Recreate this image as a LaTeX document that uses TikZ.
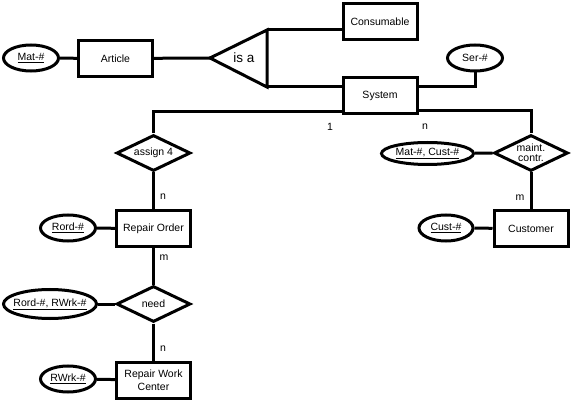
\documentclass[tikz,border=0pt]{standalone}
\usepackage{fontspec}
\setmainfont{Liberation Sans}
\usetikzlibrary{shapes.geometric}

\newcommand{\keyattr}[1]{\makebox[0pt]{\underline{#1}}}
\newcommand{\flatbox}[1]{\makebox[0pt]{#1}}

\begin{document}
\begin{tikzpicture}[x=1pt,y=1pt,yscale=-1,xscale=1,
  every node/.style={font=\fontsize{10.5}{12.5}\selectfont},
  entity/.style={draw,line width=3pt,rectangle,minimum width=74pt,minimum height=36pt,inner sep=0pt,align=center},
  relation/.style={draw,line width=3pt,diamond,minimum width=74pt,minimum height=36pt,inner sep=0pt,align=center},
  attrib/.style={draw,line width=3pt,ellipse,minimum width=#1,minimum height=26pt,inner sep=0pt},
  card/.style={inner sep=0.75pt},
  link/.style={line width=3pt}]
\useasboundingbox (0,0) rectangle (571,401);

%Entities
\node [entity] (article) at (115.5,58.5) {Article};
\node [entity] (consumable) at (380,21.5) {Consumable};
\node [entity] (system) at (380,96) {System};
\node [entity] (reporder) at (153.5,228.5) {Repair Order};
\node [entity] (workcenter) at (153.5,380) {Repair Work\\Center};
\node [entity] (customer) at (531,228.5) {Customer};

%Relations
\node [relation] (assign) at (153.5,153) {\flatbox{assign 4}};
\node [relation] (need) at (153.5,304) {\flatbox{need}};
\node [relation] (maint) at (531,153) {\flatbox{\shortstack{maint.\\contr.}}};

%Attributes
\node [attrib=55pt] (matid) at (31,58) {\keyattr{Mat-\#}};
\node [attrib=55pt] (serid) at (475,58) {\flatbox{Ser-\#}};
\node [attrib=55pt] (rordid) at (68,228) {\keyattr{Rord-\#}};
\node [attrib=93pt,minimum height=29pt] (needid) at (50,304) {\keyattr{Rord-\#, RWrk-\#}};
\node [attrib=55pt] (rwrkid) at (68,379) {\keyattr{RWrk-\#}};
\node [attrib=92pt,minimum height=22pt] (maintid) at (427.5,153.5) {\keyattr{Mat-\#, Cust-\#}};
\node [attrib=54pt] (custid) at (446,228) {\keyattr{Cust-\#}};

%Generalisation triangle
\coordinate (isatip) at (210,58);
\coordinate (isatop) at (267,30);
\coordinate (isabot) at (267,87);
\draw [link,line join=miter] (isatip) -- (isatop) -- (isabot) -- cycle;
\node [font=\fontsize{13.5}{15}\selectfont] (isa) at (244,58) {is a};

%Straight Lines
\draw [link] (matid) -- (article);
\draw [link] (article) -- (isatip);
\draw [link] (isatop) -- (isatop -| consumable.west);
\draw [link] (isabot) -- (isabot -| system.west);
\draw [link] ([yshift=-9pt]system.east) -| (serid.south);
\draw [link] ([yshift=15pt]system.east) -| (maint.north);
\draw [link] ([yshift=16pt]system.west) -| (assign.north);
\draw [link] (assign.south) -- (reporder.north);
\draw [link] (rordid) -- (reporder);
\draw [link] (reporder.south) -- (need.north);
\draw [link] (needid) -- (need.west);
\draw [link] (need.south) -- (workcenter.north);
\draw [link] (rwrkid) -- (workcenter);
\draw [link] (maintid) -- (maint.west);
\draw [link] (maint.south) -- (customer.north);
\draw [link] (custid) -- (customer);

% Text Node
\node [card] (card1) at (330,127) {1};
\node [card] (cardsys) at (425,127) {n};
\node [card] (cardord) at (163,197) {n};
\node [card] (cardneed) at (164,258) {m};
\node [card] (cardwork) at (163,349) {n};
\node [card] (cardcust) at (520,198) {m};
\end{tikzpicture}
\end{document}
